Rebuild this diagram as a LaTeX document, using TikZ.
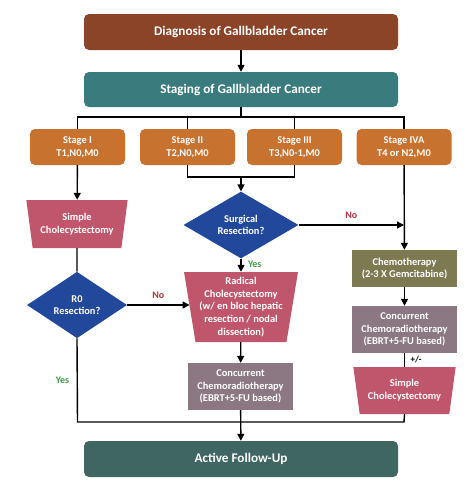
\documentclass[tikz,border=0pt]{standalone}
\usepackage{fontspec}
\setmainfont{Carlito}
\usetikzlibrary{shapes.geometric,arrows.meta}
\definecolor{cdiag}{HTML}{8C4429}
\definecolor{cstag}{HTML}{3A7B7E}
\definecolor{corange}{HTML}{C8722F}
\definecolor{cpink}{HTML}{C0566B}
\definecolor{cblue}{HTML}{21489A}
\definecolor{colive}{HTML}{7D7A52}
\definecolor{cmauve}{HTML}{8B7882}
\definecolor{cfu}{HTML}{3F6660}
\definecolor{cno}{HTML}{B8323C}
\definecolor{cyes}{HTML}{3FA04A}
\tikzset{
  base/.style={text=white, font=\bfseries\fontsize{10.4}{12.7}\selectfont, align=center, inner sep=0pt},
  titlebox/.style={base, rounded corners=5pt, minimum width=314pt, minimum height=36pt, font=\bfseries\fontsize{13.2}{14}\selectfont},
  stagebox/.style={base, fill=corange, rounded corners=5pt, minimum width=95pt, minimum height=36pt},
  rectbox/.style={base, minimum width=105pt},
  trap/.style={base, fill=cpink, trapezium, shape border rotate=180, trapezium stretches=true},
  decision/.style={base, fill=cblue, diamond},
  conn/.style={line width=1.4pt},
  arr/.style={conn, -{Triangle[length=7pt,width=7pt]}},
  nolab/.style={text=cno, font=\bfseries\fontsize{10}{11}\selectfont},
  yeslab/.style={text=cyes, font=\bfseries\fontsize{10}{11}\selectfont},
}
\begin{document}
\begin{tikzpicture}[x=1pt,y=-1pt]
\useasboundingbox (0,0) rectangle (474,488);
\node[titlebox, fill=cdiag] (diag) at (241,32) {Diagnosis of Gallbladder Cancer};
\node[titlebox, fill=cstag, minimum height=35pt] (stag) at (241,89.5) {Staging of Gallbladder Cancer};
\node[stagebox] (s1) at (77.5,147) {Stage I\\T1,N0,M0};
\node[stagebox] (s2) at (187.5,147) {Stage II\\T2,N0,M0};
\node[stagebox] (s3) at (294.5,147) {Stage III\\T3,N0-1,M0};
\node[stagebox] (s4) at (404,147) {Stage IVA\\T4 or N2,M0};
\node[trap, minimum width=102pt, minimum height=48pt, trapezium left angle=76.5, trapezium right angle=76.5] (sc1) at (77,224) {Simple\\Cholecystectomy};
\node[decision, minimum width=100pt, minimum height=56pt] (r0) at (77,305) {R0\\Resection?};
\node[decision, minimum width=115pt, minimum height=56pt] (sr) at (241,225) {Surgical\\Resection?};
\node[trap, minimum width=114pt, minimum height=70pt, trapezium left angle=80, trapezium right angle=80] (rad) at (241,307) {Radical\\Cholecystectomy\\(w/ en bloc hepatic\\resection / nodal\\dissection)};
\node[rectbox, fill=cmauve, minimum height=47pt] (crt1) at (240.5,386.5) {Concurrent\\Chemoradiotherapy\\(EBRT+5-FU based)};
\node[rectbox, fill=colive, minimum width=105pt, minimum height=37pt] (chemo) at (404.5,268.5) {Chemotherapy\\(2-3 X Gemcitabine)};
\node[rectbox, fill=cmauve, minimum height=47pt] (crt2) at (404.5,329.5) {Concurrent\\Chemoradiotherapy\\(EBRT+5-FU based)};
\node[trap, minimum width=103pt, minimum height=47pt, trapezium left angle=76.5, trapezium right angle=76.5] (sc2) at (404.5,390.5) {Simple\\Cholecystectomy};
\node[titlebox, fill=cfu] (fu) at (241,459) {Active Follow-Up};
% connectors
\coordinate (bar) at (241,117);
\coordinate (mid) at (241,177);
\coordinate (bl) at (77.5,422);
\coordinate (br) at (404,422);
\draw[arr] (diag) -- (stag);
\draw[conn] (stag) -- (bar);
\draw[conn] (s1.north) |- (bar) -| (s4.north);
\draw[conn] (s2.north) -- (s2.north |- bar);
\draw[conn] (s3.north) -- (s3.north |- bar);
\draw[arr] (s1) -- (sc1);
\draw[conn] (sc1) -- (r0);
\draw[arr] (r0.east) -- node[nolab, above=2pt] {No} (r0.east -| rad.west);
\draw[conn] (r0.south) -- node[yeslab, left=4pt, pos=0.5] {Yes} (bl) -- (br) -- (sc2.south);
\draw[conn] (s2.south) |- (mid) -| (s3.south);
\draw[arr] (mid) -- (sr);
\draw[arr] (sr.east) -- node[nolab, above=2pt] {No} (sr.east -| s4.south);
\draw[arr] (s4) -- (chemo);
\draw[arr] (sr) -- node[yeslab, right=3pt, pos=0.45] {Yes} (rad);
\draw[arr] (rad) -- (crt1);
\draw[arr] (crt1) -- (fu);
\draw[arr] (chemo) -- (crt2);
\draw[conn] (crt2) -- node[right=2pt, font=\bfseries\fontsize{9}{10}\selectfont] {+/-} (sc2);
\end{tikzpicture}
\end{document}
